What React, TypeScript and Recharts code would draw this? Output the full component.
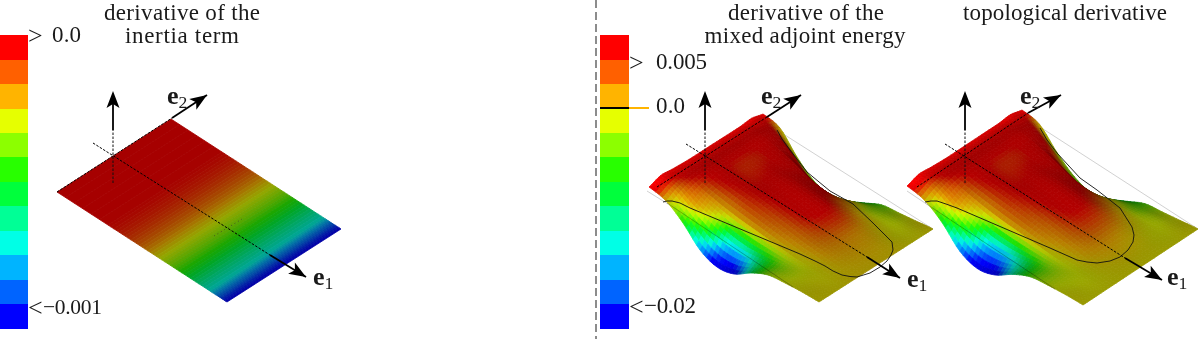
import React from "react";
import { ScatterChart, Scatter, XAxis, YAxis, ReferenceArea } from "recharts";

const W = 1200, H = 339;
const FONT = "'Liberation Serif', 'DejaVu Serif', serif";

// ---- colour scale -----
const barColors = ["#ff0000","#ff6000","#ffb400","#e6ff00","#8cff00","#28ff00","#00ff3c","#00ff96","#00ffe6","#00b4ff","#0064ff","#0000ff"];
const barEdges = [35,60,84,109,133,157,182,206,231,255,280,304,329];

// ---- field samples -----
const uGrid = [0,.1,.2,.3,.4,.5,.6,.7,.8,.9,1];
const vGrid = [0,.1,.2,.35,.5,.65,.8,.9,1];

const plateU = [0,.3,.4,.5,.6,.7,.8,.9,.95,1];
const plateV = [0,1];
const plateRow = [-.00004,-.00005,-.00009,-.00017,-.00031,-.00045,-.00062,-.00077,-.00093,-.00104];
const plateField = [plateRow, plateRow];
const plateHeight = [[0,0,0,0,0,0,0,0,0,0],[0,0,0,0,0,0,0,0,0,0]];

const mixedHeight = [
  [5,2,-9,-25,-31,-27,-15,-6,-3,-1,0],
  [9,8,0,-6,-11,-12,-9,-5,-2,-1,0],
  [8,11,7,4,2,1,0,-1,-1,0,0],
  [7,12,11,10,9,7,5,3,2,1,0],
  [7,12,11,10,10,9,7,4,2,1,0],
  [7,12,11,10,10,9,7,4,2,1,0],
  [7,12,10,6,0,-3,-3,-1,-1,-1,0],
  [8,9,2,-11,-18,-16,-10,-5,-2,-1,0],
  [5,2,-16,-29,-33,-27,-18,-9,-6,-3,0],
];
const mixedField = [
  [.009,.0002,-.007,-.017,-.023,-.022,-.01,-.003,-.0012,-.0006,-.0004],
  [.009,.003,.0005,-.004,-.012,-.013,-.009,-.004,-.0015,-.0006,-.0004],
  [.009,.0065,.003,.0012,.0007,.0004,-.0001,-.0006,-.0008,-.0006,-.0004],
  [.009,.008,.007,.0062,.0055,.0045,.0035,.0025,.0014,.0004,0],
  [.009,.008,.0055,.006,.0075,.0075,.0068,.0045,.002,.0008,.0001],
  [.009,.008,.0058,.0068,.0078,.0075,.0068,.0045,.0016,.0005,0],
  [.009,.0085,.008,.0078,.0075,.0065,.003,.0002,-.0005,-.0008,-.0005],
  [.009,.008,.0075,.006,.003,.001,-.0005,-.003,-.002,-.001,-.0006],
  [.009,.0002,-.002,-.004,-.005,-.007,-.008,-.005,-.002,-.0006,-.0003],
];
const topoHeight = [
  [5,2,-9,-26,-32,-27,-15,-6,-3,-1,0],
  [9,8,0,-7,-12,-12,-9,-5,-2,-1,0],
  [8,11,7,4,2,1,0,-1,-1,0,0],
  [7,12,11,10,9,7,5,3,1,0,0],
  [7,12,11,10,10,9,7,4,2,0,0],
  [7,12,11,10,10,9,7,4,2,0,0],
  [7,12,10,6,0,-3,-3,-1,-1,-1,0],
  [8,9,2,-11,-18,-16,-10,-5,-2,-1,0],
  [5,2,-15,-28,-33,-27,-18,-9,-6,-3,0],
];
const topoField = [
  [.009,.0002,-.008,-.018,-.023,-.022,-.012,-.005,-.0018,-.0008,-.0006],
  [.009,.003,.0005,-.005,-.013,-.014,-.01,-.005,-.002,-.001,-.0007],
  [.009,.0065,.003,.0012,.0007,.0003,-.0002,-.001,-.0012,-.001,-.0007],
  [.009,.008,.007,.0062,.0055,.0042,.003,.002,.0008,-.0003,-.0006],
  [.009,.008,.0055,.006,.0075,.0072,.0062,.004,.0015,.0001,-.0006],
  [.009,.008,.0058,.0068,.0078,.0072,.006,.0035,.0008,-.0003,-.0006],
  [.009,.0085,.008,.0075,.0068,.0055,.0025,-.0001,-.0008,-.001,-.0007],
  [.009,.008,.006,.002,.0005,-.0005,-.002,-.004,-.002,-.001,-.0006],
  [.009,.0002,-.002,-.004,-.005,-.007,-.008,-.005,-.002,-.0008,-.0005],
];

// ---- contours (chart coordinates) --------------------------
const mixedContour = [[663,202],[667,201],[672,201],[680,203],[690,208],[757,236],[800,254],[815,261],[825,266],[833,271],[842,275],[850,276.5],[857,277],[870,273],[880,267],[887,261],[891,255],[893,250],[892,242],[873,223],[853,204],[830,191],[807,172],[790,150],[782,139],[777,130]];
const topoContour = [[925,202],[931,201],[937,201],[946,204],[957,208],[1050,248],[1077,260],[1087,262],[1097,263],[1110,261],[1120,257],[1128,250],[1133,242],[1134,235],[1132,227],[1120,208],[1097,190],[1080,178],[1057,153],[1047,140],[1040,128]];

const divider = [[596,0],[596,339]];

// ---- helpers -----
const clamp = (a: number, lo: number, hi: number) => Math.max(lo, Math.min(hi, a));
const hex = (s: string) => [1,3,5].map(i => parseInt(s.slice(i, i + 2), 16));
const scale = [...barColors].reverse().map((c, i) => ({ t: (i + .5) / 12, rgb: hex(c) }));
function cmap(t: number) {
  t = clamp(t, scale[0].t, scale[11].t);
  let i = 0;
  while (i < 10 && t > scale[i + 1].t) i++;
  const f = (t - scale[i].t) / (scale[i + 1].t - scale[i].t);
  return scale[i].rgb.map((c, k) => c + (scale[i + 1].rgb[k] - c) * f);
}
const tPlate = (v: number) => 1 + v / .001 * .925;
const tMixed = (v: number) => v >= 0 ? .75 + v / .005 * .16 : .75 + v / .02 * .67;

function cr(p: number[], s: number) {
  const n = p.length - 1;
  const i = clamp(Math.floor(s), 0, n - 1), f = s - i;
  const a = p[Math.max(i - 1, 0)], b = p[i], c = p[i + 1], d = p[Math.min(i + 2, n)];
  return .5 * (2 * b + (c - a) * f + (2 * a - 5 * b + 4 * c - d) * f * f + (3 * b - a - 3 * c + d) * f * f * f);
}
function lin(p: number[], s: number) {
  const n = p.length - 1;
  const i = clamp(Math.floor(s), 0, n - 1), f = s - i;
  return p[i] + (p[i + 1] - p[i]) * f;
}
function grid(g: number[][], r: number, c: number) {
  return cr(g.map(row => cr(row, c)), r);
}
type Frame = { L: number[]; E1: number[]; E2: number[] };

function buildMesh(frame: Frame, us: number[], vs: number[], hs: number[][], fs: number[][], toT: (v: number) => number, nu: number, nv: number, rim: number) {
  const out: any[] = [];
  const P = (r: number, c: number) => {
    const u = lin(us, c), v = lin(vs, r), h = grid(hs, r, c);
    return [frame.L[0] + u * frame.E1[0] + v * frame.E2[0], frame.L[1] + u * frame.E1[1] + v * frame.E2[1] - h];
  };
  for (let r = vs.length - 2; r >= 0; r--) {
    for (let c = 0; c < us.length - 1; c++) {
      const anchor = P(r, c);
      const polys: any[] = [];
      for (let j = nv - 1; j >= 0; j--) {
        for (let i = 0; i < nu; i++) {
          const r0 = r + j / nv, r1 = r + (j + 1) / nv, c0 = c + i / nu, c1 = c + (i + 1) / nu;
          const rm = (r0 + r1) / 2, cm = (c0 + c1) / 2;
          const dv = lin(vs, Math.min(rm + .1, vs.length - 1)) - lin(vs, Math.max(rm - .1, 0));
          const du = lin(us, Math.min(cm + .1, us.length - 1)) - lin(us, Math.max(cm - .1, 0));
          const dhdv = (grid(hs, Math.min(rm + .1, vs.length - 1), cm) - grid(hs, Math.max(rm - .1, 0), cm)) / dv;
          const dhdu = (grid(hs, rm, Math.min(cm + .1, us.length - 1)) - grid(hs, rm, Math.max(cm - .1, 0))) / du;
          const u = lin(us, cm);
          const boost = u < .1 ? rim * (1 - u / .1) : 0;
          const shade = clamp(.65 + .0018 * dhdv - .0012 * Math.max(dhdu, -140) + boost, .24, .98);
          const col = cmap(toT(grid(fs, rm, cm))).map(x => Math.round(x * shade));
          const pts = [P(r0, c0), P(r0, c1), P(r1, c1), P(r1, c0)].map(p => [p[0] - anchor[0], p[1] - anchor[1]]);
          polys.push({ pts, fill: `rgb(${col.join(",")})` });
        }
      }
      out.push({ x: anchor[0], y: anchor[1], polys });
    }
  }
  return out;
}

const MeshCell = (props: any) => {
  const { cx, cy, payload } = props;
  return (
    <g>
      {payload.polys.map((p: any, i: number) => (
        <polygon key={i} fill={p.fill} stroke={p.fill} strokeWidth={0.8} strokeLinejoin="round"
          points={p.pts.map((q: number[]) => `${cx + q[0]},${cy + q[1]}`).join(" ")} />
      ))}
    </g>
  );
};

const ArrowHead = (props: any) => {
  const { cx, cy, payload } = props;
  return <path transform={`translate(${cx},${cy}) rotate(${payload.angle})`} d="M0 0 L-17 -6.5 L-13 0 L-17 6.5 Z" fill="#000" />;
};

const Txt = (props: any) => {
  const { cx, cy, payload } = props;
  const { text, size, len, anchor, sub, bold } = payload;
  return (
    <text x={cx} y={cy} fontFamily={FONT} fontSize={size} fill="#1a1a1a" textAnchor={anchor || "start"} fontWeight={bold ? 700 : 400}
      {...(len ? { textLength: len, lengthAdjust: "spacing" } : {})}>
      {text}
      {sub ? <tspan fontSize={size * .68} fontWeight={400} dy={4}>{sub}</tspan> : null}
    </text>
  );
};

const None = () => null;
const pts = (a: number[][]) => a.map(p => ({ x: p[0], y: p[1] }));

const Poly = ({ id, data, stroke, width = 1, dash }: any) => (
  <Scatter key={id} name={id} data={pts(data)} shape={None as any} isAnimationActive={false}
    line={{ stroke, strokeWidth: width, strokeDasharray: dash }} lineType="joint" />
);

// frames of the three plots
const f1: Frame = { L: [57,192], E1: [170,110], E2: [114,-73] };
const f2: Frame = { L: [649,192], E1: [170,110], E2: [114,-73] };
const f3: Frame = { L: [907,191], E1: [176,114], E2: [115,-76] };

const mesh1 = buildMesh(f1, plateU, plateV, plateHeight, plateField, tPlate, 6, 1, 0);
const mesh2 = buildMesh(f2, uGrid, vGrid, mixedHeight, mixedField, tMixed, 5, 5, .24);
const mesh3 = buildMesh(f3, uGrid, vGrid, topoHeight, topoField, tMixed, 5, 5, .24);

// axes: origin, e1 start / split / tip, e2 start / split / tip
const axes = [
  { o: [113,155], e1: [[93,143],[270,255],[306,277]], e2: [[57,192],[172,118],[207,95]] },
  { o: [705,155], e1: [[686,144],[867,257],[900,278]], e2: [[657,187],[767,117],[801,95]] },
  { o: [965,155], e1: [[945,144],[1125,258],[1162,280]], e2: [[917,187],[1028,113],[1061,95]] },
];

const labels = [
  { x: 182, y: 20, text: "derivative of the", size: 23, len: 156, anchor: "middle" },
  { x: 182, y: 43, text: "inertia term", size: 23, len: 114, anchor: "middle" },
  { x: 806, y: 20, text: "derivative of the", size: 23, len: 156, anchor: "middle" },
  { x: 805, y: 43, text: "mixed adjoint energy", size: 23, len: 201, anchor: "middle" },
  { x: 1065, y: 20, text: "topological derivative", size: 23, len: 204, anchor: "middle" },
  { x: 28, y: 44, text: ">", size: 26 },
  { x: 52, y: 42, text: "0.0", size: 23, len: 29 },
  { x: 28, y: 316, text: "<", size: 26 },
  { x: 43, y: 314, text: "−0.001", size: 21.5, len: 59 },
  { x: 629, y: 71, text: ">", size: 26 },
  { x: 656, y: 69, text: "0.005", size: 23, len: 51 },
  { x: 656, y: 113, text: "0.0", size: 23, len: 29 },
  { x: 629, y: 315, text: "<", size: 26 },
  { x: 644, y: 313, text: "−0.02", size: 23, len: 52 },
  { x: 313, y: 285, text: "e", sub: "1", size: 26, bold: true },
  { x: 167, y: 104, text: "e", sub: "2", size: 26, bold: true },
  { x: 907, y: 287, text: "e", sub: "1", size: 26, bold: true },
  { x: 761, y: 104, text: "e", sub: "2", size: 26, bold: true },
  { x: 1167, y: 285, text: "e", sub: "1", size: 26, bold: true },
  { x: 1020, y: 104, text: "e", sub: "2", size: 26, bold: true },
];

function AxisSet(a: any, i: number) {
  const [ox, oy] = a.o;
  const ang = (p: number[], q: number[]) => Math.atan2(q[1] - p[1], q[0] - p[0]) * 180 / Math.PI;
  const heads = [
    { x: a.e1[2][0], y: a.e1[2][1], angle: ang(a.e1[1], a.e1[2]) },
    { x: a.e2[2][0], y: a.e2[2][1], angle: ang(a.e2[1], a.e2[2]) },
    { x: ox, y: 91, angle: -90 },
  ];
  return [
    Poly({ id: `e1d${i}`, data: [a.e1[0], a.e1[1]], stroke: "#000", width: 1, dash: "2.5 1.5" }),
    Poly({ id: `e1s${i}`, data: [a.e1[1], a.e1[2]], stroke: "#000", width: 1.8 }),
    Poly({ id: `e2d${i}`, data: [a.e2[0], a.e2[1]], stroke: "#000", width: 1, dash: "2.5 1.5" }),
    Poly({ id: `e2s${i}`, data: [a.e2[1], a.e2[2]], stroke: "#000", width: 1.8 }),
    Poly({ id: `e3d${i}`, data: [[ox, 183], [ox, 130]], stroke: "#111", width: 1, dash: "2.5 1.5" }),
    Poly({ id: `e3s${i}`, data: [[ox, 130], [ox, 100]], stroke: "#000", width: 1.8 }),
    <Scatter key={`h${i}`} name={`h${i}`} data={heads} shape={ArrowHead as any} isAnimationActive={false} />,
  ];
}

export default function App() {
  return (
    <div style={{ position: "absolute", left: 0, top: 0, width: W, height: H, background: "#fff", filter: "blur(0.45px)" }}>
      <ScatterChart width={W} height={H} margin={{ top: 0, right: 0, bottom: 0, left: 0 }}>
        <XAxis type="number" dataKey="x" domain={[0, W]} hide allowDataOverflow />
        <YAxis type="number" dataKey="y" domain={[0, H]} reversed hide allowDataOverflow />
        {barColors.map((c, i) => (
          <ReferenceArea key={`a${i}`} x1={0} x2={28} y1={barEdges[i]} y2={barEdges[i + 1]} fill={c} fillOpacity={1} stroke="none" ifOverflow="visible" />
        ))}
        {barColors.map((c, i) => (
          <ReferenceArea key={`b${i}`} x1={600} x2={629} y1={barEdges[i]} y2={barEdges[i + 1]} fill={c} fillOpacity={1} stroke="none" ifOverflow="visible" />
        ))}
        {Poly({ id: "divider", data: divider, stroke: "#8c8c8c", width: 2, dash: "8 4" })}
        {Poly({ id: "zeroBlack", data: [[600,108],[629,108]], stroke: "#000", width: 2 })}
        {Poly({ id: "zeroOrange", data: [[629,108],[649,108]], stroke: "#ffb400", width: 2 })}
        {Poly({ id: "edge2", data: [[777,130],[933,229]], stroke: "#bdbdbd", width: 0.7 })}
        {Poly({ id: "edge3", data: [[1040,127],[1198,229]], stroke: "#bdbdbd", width: 0.7 })}
        {Poly({ id: "edge2b", data: [[647,191],[668,204]], stroke: "#bdbdbd", width: 0.7 })}
        {Poly({ id: "edge3b", data: [[907,191],[925,203]], stroke: "#bdbdbd", width: 0.7 })}
        <Scatter name="plate" data={mesh1} shape={MeshCell as any} isAnimationActive={false} />
        <Scatter name="mixed" data={mesh2} shape={MeshCell as any} isAnimationActive={false} />
        <Scatter name="topo" data={mesh3} shape={MeshCell as any} isAnimationActive={false} />
        {Poly({ id: "edge2c", data: [[667,203],[793,287]], stroke: "rgba(0,0,0,.45)", width: 0.6 })}
        {Poly({ id: "edge3c", data: [[925,203],[1055,289]], stroke: "rgba(0,0,0,.45)", width: 0.6 })}
        {Poly({ id: "contour2", data: mixedContour, stroke: "#111", width: 0.9 })}
        {Poly({ id: "contour3", data: topoContour, stroke: "#111", width: 0.9 })}
        {Poly({ id: "cross", data: [[214,236],[242,219]], stroke: "#333", width: 0.7, dash: "1 3" })}
        {axes.map(AxisSet)}
        <Scatter name="labels" data={labels} shape={Txt as any} isAnimationActive={false} />
      </ScatterChart>
    </div>
  );
}
